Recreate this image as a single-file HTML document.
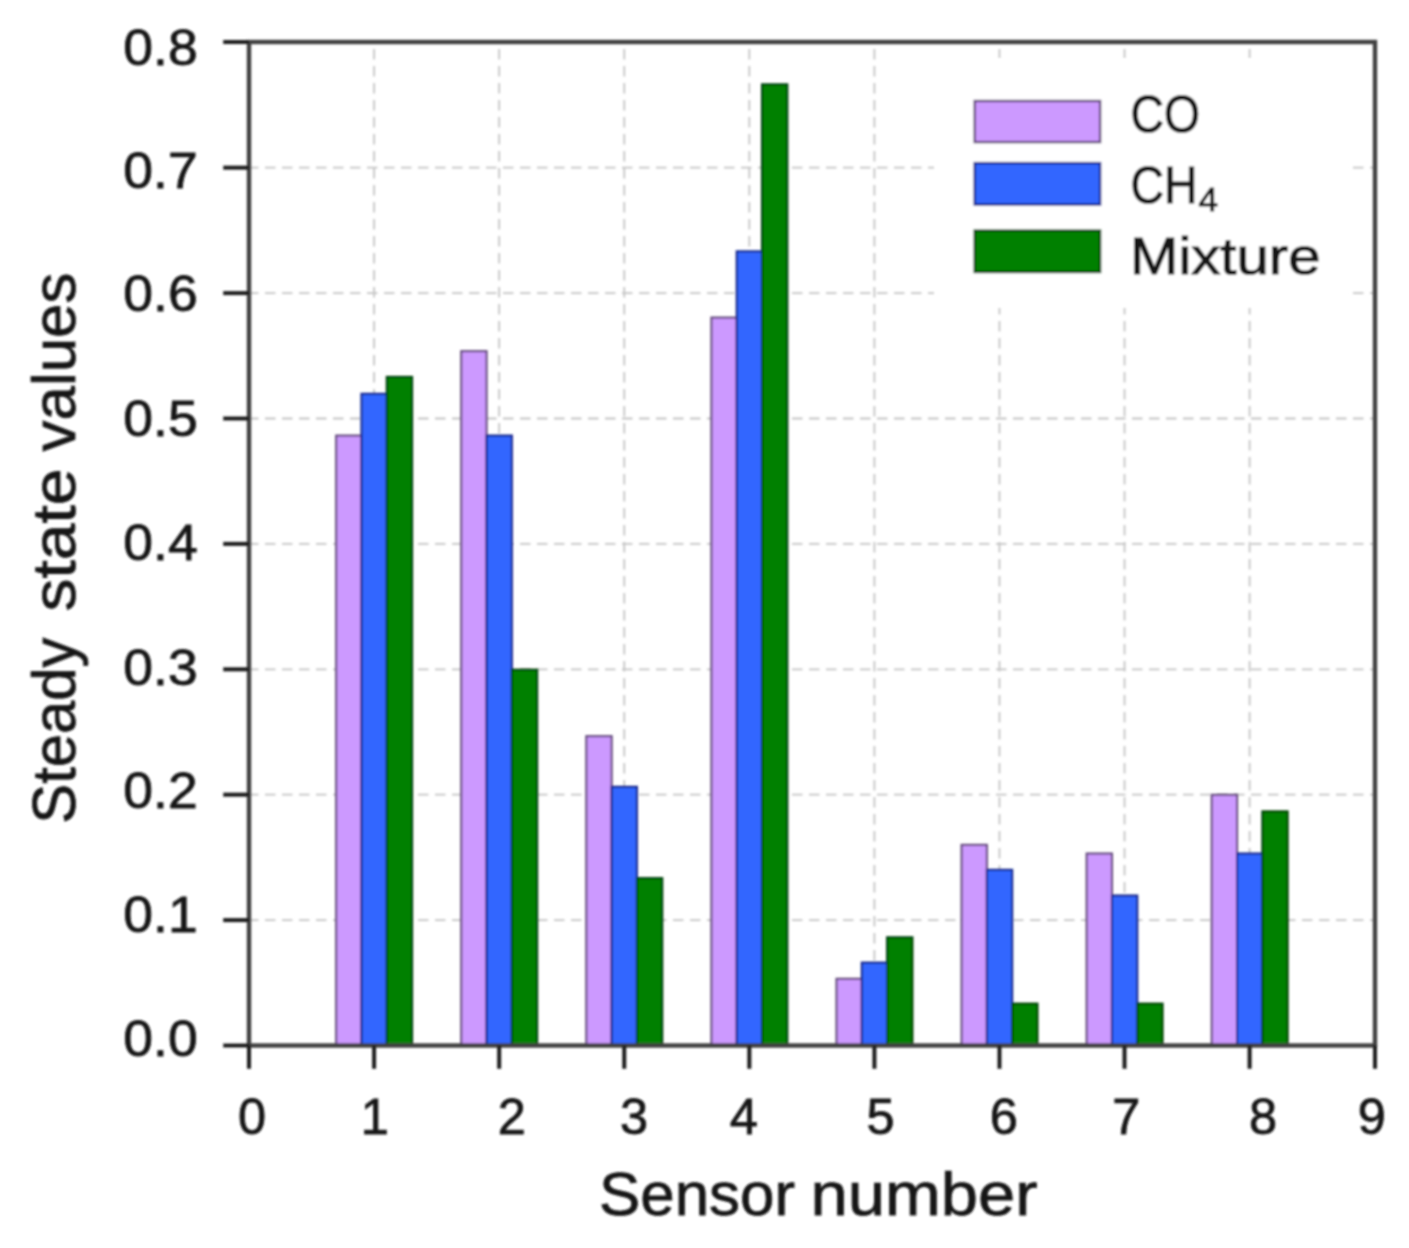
<!DOCTYPE html>
<html lang="en"><head><meta charset="utf-8"><title>Steady state values</title>
<style>html,body{margin:0;padding:0;background:#fff}body{width:1409px;height:1248px;overflow:hidden}svg{display:block}text{font-family:"Liberation Sans",sans-serif;fill:#161616;stroke:#161616;stroke-width:0.75px}</style></head><body>
<svg width="1409" height="1248" viewBox="0 0 1409 1248">
<rect width="1409" height="1248" fill="#fff"/>
<defs><filter id="fg" filterUnits="userSpaceOnUse" x="0" y="0" width="1409" height="1248"><feGaussianBlur stdDeviation="0.9"/></filter><filter id="fb" filterUnits="userSpaceOnUse" x="0" y="0" width="1409" height="1248"><feGaussianBlur stdDeviation="0.8"/></filter></defs>
<g stroke="#c4c4c4" stroke-width="1.8" stroke-dasharray="10.5 6.5" fill="none" filter="url(#fg)">
<line x1="374.08" y1="49.00" x2="374.08" y2="1045.50"/>
<line x1="499.16" y1="49.00" x2="499.16" y2="1045.50"/>
<line x1="624.24" y1="49.00" x2="624.24" y2="1045.50"/>
<line x1="749.32" y1="49.00" x2="749.32" y2="1045.50"/>
<line x1="874.40" y1="49.00" x2="874.40" y2="1045.50"/>
<line x1="999.48" y1="49.00" x2="999.48" y2="1045.50"/>
<line x1="1124.56" y1="49.00" x2="1124.56" y2="1045.50"/>
<line x1="1249.64" y1="49.00" x2="1249.64" y2="1045.50"/>
<line x1="248.00" y1="920.10" x2="1375.00" y2="920.10"/>
<line x1="248.00" y1="794.70" x2="1375.00" y2="794.70"/>
<line x1="248.00" y1="669.30" x2="1375.00" y2="669.30"/>
<line x1="248.00" y1="543.90" x2="1375.00" y2="543.90"/>
<line x1="248.00" y1="418.50" x2="1375.00" y2="418.50"/>
<line x1="248.00" y1="293.10" x2="1375.00" y2="293.10"/>
<line x1="248.00" y1="167.70" x2="1375.00" y2="167.70"/>
</g>
<g filter="url(#fb)">
<rect x="934" y="58" width="415" height="250" fill="#fff"/>
<rect x="336.18" y="435.58" width="25.30" height="609.92" fill="#cc99ff" stroke="#634a7c" stroke-width="2.1"/>
<rect x="361.48" y="393.82" width="25.30" height="651.68" fill="#3366ff" stroke="#16268c" stroke-width="2.1"/>
<rect x="386.78" y="376.89" width="25.30" height="668.61" fill="#008000" stroke="#00420a" stroke-width="2.1"/>
<rect x="461.26" y="351.18" width="25.30" height="694.32" fill="#cc99ff" stroke="#634a7c" stroke-width="2.1"/>
<rect x="486.56" y="435.58" width="25.30" height="609.92" fill="#3366ff" stroke="#16268c" stroke-width="2.1"/>
<rect x="511.86" y="669.70" width="25.30" height="375.80" fill="#008000" stroke="#00420a" stroke-width="2.1"/>
<rect x="586.34" y="736.16" width="25.30" height="309.34" fill="#cc99ff" stroke="#634a7c" stroke-width="2.1"/>
<rect x="611.64" y="786.82" width="25.30" height="258.68" fill="#3366ff" stroke="#16268c" stroke-width="2.1"/>
<rect x="636.94" y="878.11" width="25.30" height="167.39" fill="#008000" stroke="#00420a" stroke-width="2.1"/>
<rect x="711.42" y="317.58" width="25.30" height="727.92" fill="#cc99ff" stroke="#634a7c" stroke-width="2.1"/>
<rect x="736.72" y="251.37" width="25.30" height="794.13" fill="#3366ff" stroke="#16268c" stroke-width="2.1"/>
<rect x="762.02" y="84.33" width="25.30" height="961.17" fill="#008000" stroke="#00420a" stroke-width="2.1"/>
<rect x="836.50" y="978.81" width="25.30" height="66.69" fill="#cc99ff" stroke="#634a7c" stroke-width="2.1"/>
<rect x="861.80" y="962.63" width="25.30" height="82.87" fill="#3366ff" stroke="#16268c" stroke-width="2.1"/>
<rect x="887.10" y="937.30" width="25.30" height="108.20" fill="#008000" stroke="#00420a" stroke-width="2.1"/>
<rect x="961.58" y="844.88" width="25.30" height="200.62" fill="#cc99ff" stroke="#634a7c" stroke-width="2.1"/>
<rect x="986.88" y="869.84" width="25.30" height="175.66" fill="#3366ff" stroke="#16268c" stroke-width="2.1"/>
<rect x="1012.18" y="1003.64" width="25.30" height="41.86" fill="#008000" stroke="#00420a" stroke-width="2.1"/>
<rect x="1086.66" y="853.54" width="25.30" height="191.96" fill="#cc99ff" stroke="#634a7c" stroke-width="2.1"/>
<rect x="1111.96" y="895.55" width="25.30" height="149.95" fill="#3366ff" stroke="#16268c" stroke-width="2.1"/>
<rect x="1137.26" y="1003.64" width="25.30" height="41.86" fill="#008000" stroke="#00420a" stroke-width="2.1"/>
<rect x="1211.74" y="794.85" width="25.30" height="250.65" fill="#cc99ff" stroke="#634a7c" stroke-width="2.1"/>
<rect x="1237.04" y="853.54" width="25.30" height="191.96" fill="#3366ff" stroke="#16268c" stroke-width="2.1"/>
<rect x="1262.34" y="811.40" width="25.30" height="234.10" fill="#008000" stroke="#00420a" stroke-width="2.1"/>
<rect x="249.00" y="42.00" width="1126.00" height="1003.50" stroke="#404040" stroke-width="4.4" fill="none"/>
<g stroke="#1e1e1e" stroke-width="4" fill="none" stroke-linecap="butt">
<line x1="249.00" y1="1045.50" x2="249.00" y2="1068.80"/>
<line x1="374.08" y1="1045.50" x2="374.08" y2="1068.80"/>
<line x1="499.16" y1="1045.50" x2="499.16" y2="1068.80"/>
<line x1="624.24" y1="1045.50" x2="624.24" y2="1068.80"/>
<line x1="749.32" y1="1045.50" x2="749.32" y2="1068.80"/>
<line x1="874.40" y1="1045.50" x2="874.40" y2="1068.80"/>
<line x1="999.48" y1="1045.50" x2="999.48" y2="1068.80"/>
<line x1="1124.56" y1="1045.50" x2="1124.56" y2="1068.80"/>
<line x1="1249.64" y1="1045.50" x2="1249.64" y2="1068.80"/>
<line x1="1375.00" y1="1045.50" x2="1375.00" y2="1068.80"/>
<line x1="223.20" y1="1045.50" x2="249.00" y2="1045.50"/>
<line x1="223.20" y1="920.10" x2="249.00" y2="920.10"/>
<line x1="223.20" y1="794.70" x2="249.00" y2="794.70"/>
<line x1="223.20" y1="669.30" x2="249.00" y2="669.30"/>
<line x1="223.20" y1="543.90" x2="249.00" y2="543.90"/>
<line x1="223.20" y1="418.50" x2="249.00" y2="418.50"/>
<line x1="223.20" y1="293.10" x2="249.00" y2="293.10"/>
<line x1="223.20" y1="167.70" x2="249.00" y2="167.70"/>
<line x1="223.20" y1="42.00" x2="249.00" y2="42.00"/>
</g>
<text transform="translate(123.3,1056.0) scale(1.06,1)" font-size="50.5" style="stroke-width:0.8px">0.0</text>
<text transform="translate(123.3,931.5) scale(1.06,1)" font-size="50.5" style="stroke-width:0.8px">0.1</text>
<text transform="translate(123.3,807.5) scale(1.06,1)" font-size="50.5" style="stroke-width:0.8px">0.2</text>
<text transform="translate(123.3,684.5) scale(1.06,1)" font-size="50.5" style="stroke-width:0.8px">0.3</text>
<text transform="translate(123.3,560.0) scale(1.06,1)" font-size="50.5" style="stroke-width:0.8px">0.4</text>
<text transform="translate(123.3,436.0) scale(1.06,1)" font-size="50.5" style="stroke-width:0.8px">0.5</text>
<text transform="translate(123.3,311.0) scale(1.06,1)" font-size="50.5" style="stroke-width:0.8px">0.6</text>
<text transform="translate(123.3,188.0) scale(1.06,1)" font-size="50.5" style="stroke-width:0.8px">0.7</text>
<text transform="translate(123.3,64.5) scale(1.06,1)" font-size="50.5" style="stroke-width:0.8px">0.8</text>
<text transform="translate(252.0,1134.3) scale(1.0,1)" font-size="50.5" style="stroke-width:0.8px" text-anchor="middle">0</text>
<text transform="translate(374.9,1134.3) scale(1.0,1)" font-size="50.5" style="stroke-width:0.8px" text-anchor="middle">1</text>
<text transform="translate(511.8,1134.3) scale(1.0,1)" font-size="50.5" style="stroke-width:0.8px" text-anchor="middle">2</text>
<text transform="translate(634.0,1134.3) scale(1.0,1)" font-size="50.5" style="stroke-width:0.8px" text-anchor="middle">3</text>
<text transform="translate(743.7,1134.3) scale(1.0,1)" font-size="50.5" style="stroke-width:0.8px" text-anchor="middle">4</text>
<text transform="translate(880.5,1134.3) scale(1.0,1)" font-size="50.5" style="stroke-width:0.8px" text-anchor="middle">5</text>
<text transform="translate(1003.8,1134.3) scale(1.0,1)" font-size="50.5" style="stroke-width:0.8px" text-anchor="middle">6</text>
<text transform="translate(1126.2,1134.3) scale(1.0,1)" font-size="50.5" style="stroke-width:0.8px" text-anchor="middle">7</text>
<text transform="translate(1263.0,1134.3) scale(1.0,1)" font-size="50.5" style="stroke-width:0.8px" text-anchor="middle">8</text>
<text transform="translate(1371.8,1134.3) scale(1.0,1)" font-size="50.5" style="stroke-width:0.8px" text-anchor="middle">9</text>
<text x="599.0" y="1214.8" font-size="61.5" textLength="196.0" lengthAdjust="spacingAndGlyphs">Sensor</text>
<text x="810.5" y="1214.8" font-size="61.5" textLength="227.0" lengthAdjust="spacingAndGlyphs">number</text>
<text transform="translate(74.5,823.7) rotate(-90)" font-size="61.5" textLength="186.0" lengthAdjust="spacingAndGlyphs">Steady</text>
<text transform="translate(74.5,611.5) rotate(-90)" font-size="61.5" textLength="143.0" lengthAdjust="spacingAndGlyphs">state</text>
<text transform="translate(74.5,451.5) rotate(-90)" font-size="61.5" textLength="179.0" lengthAdjust="spacingAndGlyphs">values</text>
<rect x="974.7" y="101.0" width="125.4" height="41.1" fill="#cc99ff" stroke="#634a7c" stroke-width="2.4"/>
<rect x="974.7" y="163.1" width="125.4" height="41.4" fill="#3366ff" stroke="#16268c" stroke-width="2.4"/>
<rect x="974.7" y="230.6" width="125.4" height="41.4" fill="#008000" stroke="#00420a" stroke-width="2.4"/>
<text x="1130.5" y="131.8" font-size="51.5" style="stroke-width:1.1px" textLength="69.5" lengthAdjust="spacingAndGlyphs">CO</text>
<text x="1130.5" y="203" font-size="51.5" style="stroke-width:1.1px" textLength="67" lengthAdjust="spacingAndGlyphs">CH</text>
<text x="1198.6" y="210.8" font-size="33.5" style="stroke-width:0.9px" textLength="19.6" lengthAdjust="spacingAndGlyphs">4</text>
<text x="1130" y="273.8" font-size="51.5" style="stroke-width:1.1px" textLength="190.5" lengthAdjust="spacingAndGlyphs">Mixture</text>
</g>
</svg></body></html>
